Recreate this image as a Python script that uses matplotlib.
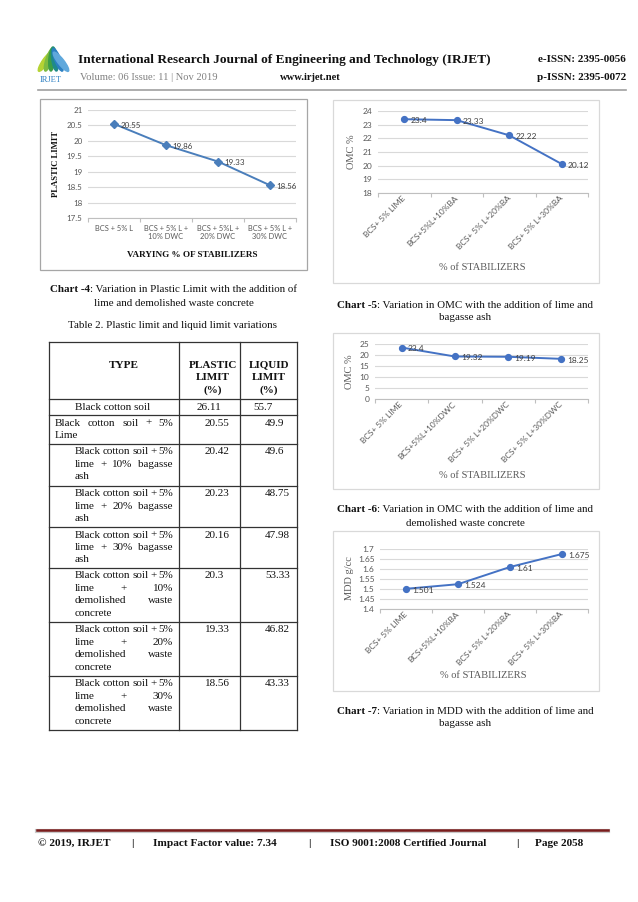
import numpy as np
import matplotlib
matplotlib.use("Agg")
import matplotlib.pyplot as plt
from matplotlib.patches import Rectangle, Ellipse

# --- data read from the page ---
pl_cats = ["BCS + 5% L", "BCS + 5% L +\n10% DWC", "BCS + 5%L +\n20% DWC", "BCS + 5% L +\n30% DWC"]
pl_vals = [20.55, 19.86, 19.33, 18.56]

omc_ba_cats = ["BCS+ 5% LIME", "BCS+5%L+10%BA", "BCS+ 5% L+20%BA", "BCS+ 5% L+30%BA"]
omc_ba_vals = [23.4, 23.33, 22.22, 20.12]

omc_dwc_cats = ["BCS+ 5% LIME", "BCS+5%L+10%DWC", "BCS+ 5% L+20%DWC", "BCS+ 5% L+30%DWC"]
omc_dwc_vals = [23.4, 19.32, 19.19, 18.25]

mdd_cats = ["BCS+ 5% LIME", "BCS+5%L+10%BA", "BCS+ 5% L+20%BA", "BCS+ 5% L+30%BA"]
mdd_vals = [1.501, 1.524, 1.61, 1.675]

table_header = ["TYPE", "PLASTIC\nLIMIT\n(%)", "LIQUID\nLIMIT\n(%)"]
table_types = [
    ["Black cotton soil"],
    ["Black cotton soil + 5%", "Lime"],
    ["Black cotton soil + 5%", "lime + 10% bagasse", "ash"],
    ["Black cotton soil + 5%", "lime + 20% bagasse", "ash"],
    ["Black cotton soil + 5%", "lime + 30% bagasse", "ash"],
    ["Black cotton soil + 5%", "lime + 10%", "demolished waste", "concrete"],
    ["Black cotton soil + 5%", "lime + 20%", "demolished waste", "concrete"],
    ["Black cotton soil + 5%", "lime + 30%", "demolished waste", "concrete"],
]
table_plastic = ["26.11", "20.55", "20.42", "20.23", "20.16", "20.3", "19.33", "18.56"]
table_liquid = ["55.7", "49.9", "49.6", "48.75", "47.98", "53.33", "46.82", "43.33"]

W, H = 638, 902
SERIF = "Liberation Serif"
SANS = "Lato"
LBL = "#595959"

fig = plt.figure(figsize=(W / 100, H / 100), dpi=100)
page = fig.add_axes([0, 0, 1, 1])
page.set_xlim(0, W)
page.set_ylim(H, 0)
page.axis("off")
renderer = fig.canvas.get_renderer()


def px_rect(l, t, r, b):
    return [l / W, 1 - b / H, (r - l) / W, (b - t) / H]


def width(a):
    return a.get_window_extent(renderer).width


def rich_center(xc, y, parts, size):
    arts = [page.text(0, y, s, ha="left", va="center", fontsize=size, fontweight=wt,
                      family=SERIF, color="#111111") for s, wt in parts]
    ws = [width(a) for a in arts]
    x = xc - sum(ws) / 2
    for a, w in zip(arts, ws):
        a.set_x(x)
        x += w


def justify(x0, x1, y, line, size):
    words = line.split()
    arts = [page.text(0, y, w, ha="left", va="center", fontsize=size,
                      family=SERIF, color="#111111") for w in words]
    ws = [width(a) for a in arts]
    gap = max((x1 - x0 - sum(ws)) / max(len(words) - 1, 1), 1.5)
    x = x0
    for a, w in zip(arts, ws):
        a.set_x(x)
        x += w + gap


# --- header ---
leaves = [(-35, "#b5d334"), (-18, "#7dbb42"), (-5, "#3c9d46"), (8, "#1f8a8a"), (22, "#2b7fc2"), (38, "#5fa8dc")]
for ang, col in leaves:
    t = np.deg2rad(ang)
    page.add_patch(Ellipse((53 + 13 * np.sin(t), 72 - 13 * np.cos(t)), 6, 24, angle=-ang,
                           color=col, zorder=2))
page.text(51, 80, "IRJET", ha="center", va="center", fontsize=6, family=SERIF, color="#2b7fc2")
page.text(78, 60, "International Research Journal of Engineering and Technology (IRJET)",
          ha="left", va="center", fontsize=9.6, fontweight="bold", family=SERIF, color="#111111")
page.text(626, 60, "e-ISSN: 2395-0056", ha="right", va="center", fontsize=8,
          fontweight="bold", family=SERIF, color="#111111")
page.text(80, 78, "Volume: 06 Issue: 11 | Nov 2019", ha="left", va="center", fontsize=7.6,
          family=SERIF, color="#808080")
page.text(310, 78, "www.irjet.net", ha="center", va="center", fontsize=7.6,
          fontweight="bold", family=SERIF, color="#111111")
page.text(626, 78, "p-ISSN: 2395-0072", ha="right", va="center", fontsize=8,
          fontweight="bold", family=SERIF, color="#111111")
page.plot([38, 626], [90, 90], color="#a0a0a0", lw=1.2)

# --- footer ---
page.plot([37, 608], [831, 831], color="#c8c8c8", lw=3)
page.plot([37, 608], [829.5, 829.5], color="#7a1c1c", lw=1.8)
for x, s in [(38, "\u00a9 2019, IRJET"), (131, "|"), (153, "Impact Factor value: 7.34"),
             (308, "|"), (330, "ISO 9001:2008 Certified Journal"), (516, "|"), (535, "Page 2058")]:
    page.text(x, 843, s, ha="left", va="center", fontsize=8.1, fontweight="bold",
              family=SERIF, color="#111111")


# --- charts ---
def excel_chart(box, area, cats, vals, ylim, ystep, marker, color, rot, tsize, box_col):
    l, t, r, b = box
    page.add_patch(Rectangle((l, t), r - l, b - t, fill=False, ec=box_col, lw=0.9))
    ax = fig.add_axes(px_rect(*area))
    ax.set_facecolor("none")
    x = np.arange(len(cats))
    ax.plot(x, vals, color=color, lw=1.4, marker=marker,
            ms=4.2 if marker == "o" else 3.8, zorder=3, clip_on=False)
    for xi, v in zip(x, vals):
        ax.annotate(f"{v:g}", (xi, v), xytext=(4.5, -1), textcoords="offset points",
                    ha="left", va="center", fontsize=tsize, family=SANS, color="#404040")
    ax.set_xlim(-0.5, len(cats) - 0.5)
    ax.set_ylim(*ylim)
    yt = np.arange(ylim[0], ylim[1] + ystep / 2, ystep)
    ax.set_yticks(yt)
    ax.set_yticklabels([f"{round(v, 3):g}" for v in yt], fontsize=tsize, family=SANS, color=LBL)
    ax.yaxis.grid(True, color="#d9d9d9", lw=0.8)
    ax.set_axisbelow(True)
    for s in ["top", "right", "left"]:
        ax.spines[s].set_visible(False)
    ax.spines["bottom"].set_color("#bfbfbf")
    ax.spines["bottom"].set_linewidth(0.8)
    ax.tick_params(axis="y", length=0, pad=4)
    ax.set_xticks(x)
    ax.set_xticks(np.arange(-0.5, len(cats)), minor=True)
    ax.tick_params(axis="x", which="major", length=0, pad=3 if rot else 5)
    ax.tick_params(axis="x", which="minor", length=3, color="#bfbfbf", width=0.8)
    if rot:
        ax.set_xticklabels(cats, rotation=45, ha="right", va="center", rotation_mode="anchor",
                           fontsize=tsize, family=SANS, color=LBL)
    else:
        ax.set_xticklabels(cats, fontsize=tsize - 0.4, family=SANS, color=LBL, linespacing=1.1)
    return ax


# chart 4: plastic limit
excel_chart((40, 99, 307, 270), (88, 110, 296, 218), pl_cats, pl_vals, (17.5, 21), 0.5,
            "D", "#4a7ebb", False, 5.8, "#a6a6a6")
page.text(56, 164, "PLASTIC LIMIT", rotation=90, ha="center", va="center", fontsize=6.2,
          fontweight="bold", family=SERIF, color="#111111")
page.text(192, 255, "VARYING % OF STABILIZERS", ha="center", va="center", fontsize=6.6,
          fontweight="bold", family=SERIF, color="#111111")

# chart 5: OMC with bagasse ash
excel_chart((333, 100, 599, 283), (378, 111, 588, 193), omc_ba_cats, omc_ba_vals, (18, 24), 1,
            "o", "#4472c4", True, 6, "#d9d9d9")
page.text(351, 152, "OMC %", rotation=90, ha="center", va="center", fontsize=7.5,
          family=SERIF, color=LBL)
page.text(482, 268, "% of STABILIZERS", ha="center", va="center", fontsize=7.5,
          family=SERIF, color=LBL)

# chart 6: OMC with demolished waste concrete
excel_chart((333, 333, 599, 489), (375, 344, 588, 399), omc_dwc_cats, omc_dwc_vals, (0, 25), 5,
            "o", "#4472c4", True, 6, "#d9d9d9")
page.text(350, 372, "OMC %", rotation=90, ha="center", va="center", fontsize=7.5,
          family=SERIF, color=LBL)
page.text(482, 475, "% of STABILIZERS", ha="center", va="center", fontsize=7.5,
          family=SERIF, color=LBL)

# chart 7: MDD with bagasse ash
excel_chart((333, 531, 599, 691), (380, 549, 588, 609), mdd_cats, mdd_vals, (1.4, 1.7), 0.05,
            "o", "#4472c4", True, 6, "#d9d9d9")
page.text(349, 578, "MDD g/cc", rotation=90, ha="center", va="center", fontsize=7.5,
          family=SERIF, color=LBL)
page.text(483, 675, "% of STABILIZERS", ha="center", va="center", fontsize=7.5,
          family=SERIF, color=LBL)

# --- captions ---
CAP = 7.9
rich_center(174, 289, [("Chart -4", "bold"), (": Variation in Plastic Limit with the addition of", "normal")], CAP)
rich_center(174, 303, [("lime and demolished waste concrete", "normal")], CAP)
rich_center(173, 325, [("Table 2. Plastic limit and liquid limit variations", "normal")], CAP)
rich_center(465, 305, [("Chart -5", "bold"), (": Variation in OMC with the addition of lime and", "normal")], CAP)
rich_center(465, 318, [("bagasse ash", "normal")], CAP)
rich_center(465, 510, [("Chart -6", "bold"), (": Variation in OMC with the addition of lime and", "normal")], CAP)
rich_center(465, 523, [("demolished waste concrete", "normal")], CAP)
rich_center(465, 711, [("Chart -7", "bold"), (": Variation in MDD with the addition of lime and", "normal")], CAP)
rich_center(465, 724, [("bagasse ash", "normal")], CAP)

# --- table ---
TS = 8.0
col_x = [49, 179, 240, 297]
row_y = [342, 399, 415, 444, 486, 527, 568, 622, 676, 730]
for xv in col_x:
    page.plot([xv, xv], [row_y[0], row_y[-1]], color="#333333", lw=0.9)
for yv in row_y:
    page.plot([col_x[0], col_x[-1]], [yv, yv], color="#333333", lw=0.9)

page.text(124, 365, table_header[0], ha="center", va="center", fontsize=TS,
          fontweight="bold", family=SERIF, color="#111111")
for xc, s in [(213, table_header[1]), (269, table_header[2])]:
    for k, ln in enumerate(s.split("\n")):
        page.text(xc, 365 + 12.5 * k, ln, ha="center", va="center", fontsize=TS,
                  fontweight="bold", family=SERIF, color="#111111")

for i, lines in enumerate(table_types):
    top = row_y[i + 1]
    y0 = top + 8
    x0 = 55 if i == 1 else 75
    for k, ln in enumerate(lines):
        y = y0 + 12.4 * k
        if k < len(lines) - 1:
            justify(x0, 173, y, ln, TS)
        else:
            page.text(x0, y, ln, ha="left", va="center", fontsize=TS, family=SERIF, color="#111111")
    px, lx = (197, 253) if i == 0 else (205, 265)
    page.text(px, y0, table_plastic[i], ha="left", va="center", fontsize=TS, family=SERIF, color="#111111")
    page.text(lx, y0, table_liquid[i], ha="left", va="center", fontsize=TS, family=SERIF, color="#111111")

fig.savefig("out.png", dpi=100)
